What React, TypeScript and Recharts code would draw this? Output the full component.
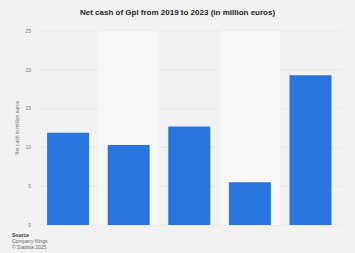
import React from "react";
import { BarChart, Bar, XAxis, YAxis, CartesianGrid, ReferenceArea } from "recharts";

const years = ["2019", "2020", "2021", "2022", "2023"];
const netCash = [11.9, 10.3, 12.7, 5.5, 19.3];
const yTicks = [0, 5, 10, 15, 20, 25];
const shadedYears = ["2020", "2022"];

const data = years.map((y, i) => ({ year: y, value: netCash[i] }));

const FONT = "'Liberation Sans', Arial, sans-serif";

export default function App() {
  return (
    <div style={{ position: "absolute", left: 0, top: 0, width: 355, height: 253, background: "#f2f2f2", fontFamily: FONT }}>
      <div style={{ position: "absolute", top: 8, width: 355, textAlign: "center", fontSize: 8, fontWeight: "bold", color: "#222" }}>
        Net cash of Gpl from 2019 to 2023 (in million euros)
      </div>
      <BarChart width={355} height={253} data={data} margin={{ top: 31, right: 14, bottom: 28, left: 0 }} barCategoryGap="15%">
        {shadedYears.map((y) => (
          <ReferenceArea key={y} x1={y} x2={y} y1={0} y2={25} fill="#f7f7f7" fillOpacity={1} stroke="none" ifOverflow="extendDomain" />
        ))}
        <CartesianGrid vertical={false} stroke="#e4e4e4" strokeWidth={0.8} />
        <XAxis dataKey="year" tick={false} tickLine={false} axisLine={{ stroke: "#b0b0b0", strokeWidth: 1 }} height={0} />
        <YAxis
          width={38}
          domain={[0, 25]}
          ticks={yTicks}
          axisLine={false}
          tickLine={false}
          tickMargin={1}
          tick={{ fontSize: 5, fill: "#777", fontFamily: FONT }}
          label={{ value: "Net cash in million euros", angle: -90, position: "insideLeft", offset: 17, style: { fontSize: 5, fill: "#777", fontFamily: FONT, textAnchor: "middle" } }}
        />
        <Bar dataKey="value" fill="#2876dd" isAnimationActive={false} />
      </BarChart>
      <div style={{ position: "absolute", left: 12, top: 232, fontSize: 5, color: "#333", lineHeight: "6px" }}>
        <div style={{ fontWeight: "bold" }}>Source</div>
        <div style={{ color: "#666" }}>Company filings</div>
        <div style={{ color: "#666" }}>© Statista 2025</div>
      </div>
    </div>
  );
}
